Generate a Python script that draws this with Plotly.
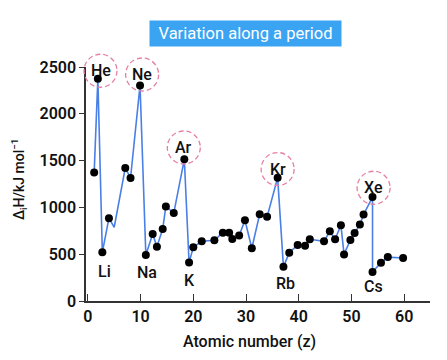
import plotly.graph_objects as go

# Data
atomic_number = [1.2, 1.9, 2.75, 4.0, 5.0, 7.1, 8.1, 9.9, 11.0, 12.3, 13.1, 14.2, 14.8, 16.3,
                 18.3, 19.2, 20.0, 21.6, 24.0, 25.6, 26.8, 27.4, 28.7, 29.8, 31.1, 32.6,
                 34.0, 36.0, 37.1, 38.2, 39.8, 41.2, 42.1, 44.8, 45.9, 46.9, 48.0, 48.6,
                 49.8, 50.6, 51.6, 52.3, 54.0, 54.0, 55.6, 56.9, 59.8]
ionization_enthalpy = [1372, 2374, 520, 885, 788, 1422, 1314, 2303, 491, 716, 580, 770, 1010, 939,
                       1514, 410, 574, 638, 649, 730, 730, 663, 699, 863, 563, 928,
                       899, 1318, 365, 516, 598, 591, 659, 638, 745, 659, 810, 498,
                       652, 727, 816, 924, 1110, 311, 408, 469, 459]
has_marker = [1, 1, 1, 1, 0, 1, 1, 1, 1, 1, 1, 1, 1, 1,
              1, 1, 1, 1, 1, 1, 1, 1, 1, 1, 1, 1,
              1, 1, 1, 1, 1, 1, 1, 1, 1, 1, 1, 1,
              1, 1, 1, 1, 1, 1, 1, 1, 1]

noble_gases = ["He", "Ne", "Ar", "Kr", "Xe"]
noble_x = [2.4, 10.3, 18.2, 36.0, 54.2]
noble_y = [2460, 2420, 1640, 1410, 1210]
alkali = ["Li", "Na", "K", "Rb", "Cs"]
alkali_x = [3.2, 11.2, 19.2, 37.5, 54.1]
alkali_y = [310, 300, 215, 190, 155]

X_RANGE = [-0.35, 64.9]
Y_RANGE = [0, 2500]

fig = go.Figure()
fig.add_trace(go.Scatter(
    x=atomic_number, y=ionization_enthalpy, mode="lines+markers",
    line=dict(color="#4a7fe6", width=1.6),
    marker=dict(color="#000000", size=[8 if m else 0 for m in has_marker],
                line=dict(width=0), opacity=1),
    showlegend=False, cliponaxis=False,
))

def to_paper_x(v):
    return (v - X_RANGE[0]) / (X_RANGE[1] - X_RANGE[0])

def to_paper_y(v):
    return (v - Y_RANGE[0]) / (Y_RANGE[1] - Y_RANGE[0])

font_lbl = dict(family="Roboto", size=16, color="#111111", weight=500)
for name, x, y in zip(noble_gases, noble_x, noble_y):
    fig.add_annotation(x=x, y=y, text=name, showarrow=False, font=font_lbl)
    fig.add_shape(type="circle", xref="paper", yref="paper", xsizemode="pixel", ysizemode="pixel",
                  xanchor=to_paper_x(x), yanchor=to_paper_y(y), x0=-16.5, x1=16.5, y0=-16.5, y1=16.5,
                  line=dict(color="#e57fa0", width=1.3, dash="5px,3px"))
for name, x, y in zip(alkali, alkali_x, alkali_y):
    fig.add_annotation(x=x, y=y, text=name, showarrow=False, font=font_lbl)

fig.add_annotation(xref="paper", yref="paper", x=0.465, y=1.0, yshift=47,
                   text="Variation along a period", showarrow=False,
                   font=dict(family="Roboto", size=16.5, color="white"),
                   bgcolor="#3ba4f2", borderpad=4, width=183, height=17)

fig.add_annotation(xref="paper", yref="paper", x=0, xshift=-67, y=0.517,
                   xanchor="center", yanchor="middle",
                   text="Δ<sub>i</sub>H/kJ mol<sup>−1</sup>", textangle=-90, showarrow=False,
                   font=dict(family="Roboto", size=14, color="#111111", weight=500))

fig.add_annotation(xref="paper", yref="paper", x=0.474, y=0, yshift=-40,
                   xanchor="center", yanchor="middle",
                   text="Atomic number (z)", showarrow=False,
                   font=dict(family="Roboto", size=16, color="#111111", weight=500))

# the page body has an 8px margin, so the figure is shrunk and margins offset by 8px
fig.update_layout(
    width=431, height=344,
    margin=dict(l=78, r=9, t=59, b=51, autoexpand=False),
    paper_bgcolor="white", plot_bgcolor="white",
    font=dict(family="Roboto", color="#111111"),
)
fig.update_xaxes(range=X_RANGE, tickvals=[0, 10, 20, 30, 40, 50, 60], automargin=False,
                 showgrid=False, zeroline=False, showline=True, linecolor="#333333", linewidth=1.5,
                 ticks="inside", ticklen=7, tickcolor="#333333",
                 tickfont=dict(family="Roboto", size=16, weight=600))
fig.update_yaxes(range=Y_RANGE, tickvals=[0, 500, 1000, 1500, 2000, 2500], automargin=False,
                 showgrid=False, zeroline=False, showline=True, linecolor="#333333", linewidth=1.5,
                 ticks="outside", ticklen=5, tickcolor="#333333",
                 tickfont=dict(family="Roboto", size=16, weight=600))

fig.write_html("out.html")
